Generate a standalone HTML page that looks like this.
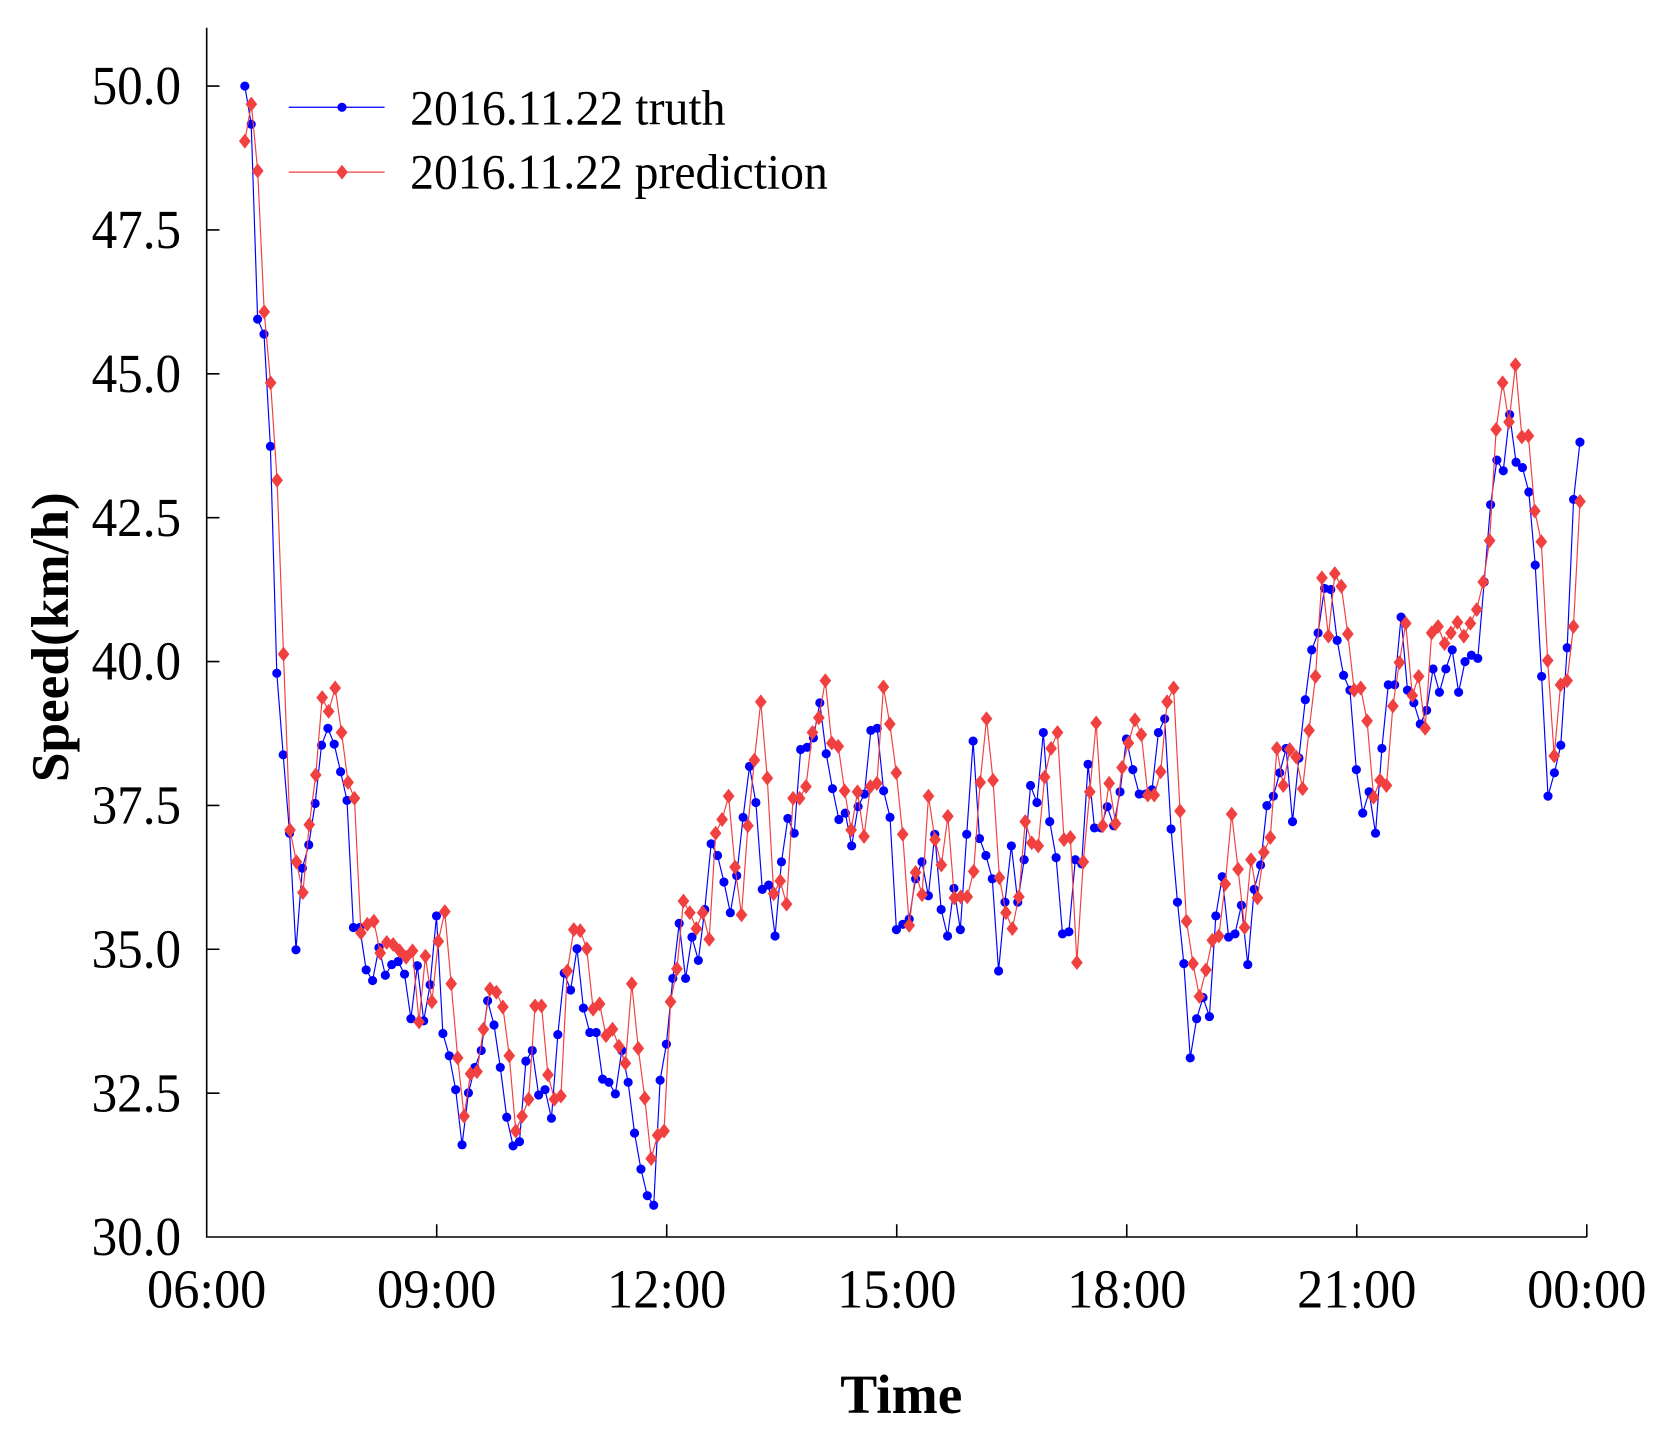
<!DOCTYPE html>
<html><head><meta charset="utf-8"><style>
html,body{margin:0;padding:0;background:#fff;}
svg{display:block;}
text{font-family:"Liberation Serif",serif;fill:#000;}
</style></head><body>
<svg id="s" width="1662" height="1431" viewBox="0 0 1560 1343" xmlns="http://www.w3.org/2000/svg">
<g stroke="#000" stroke-width="1.5" fill="none">
<path d="M194,26 V1161 H1489.4"/>
<path d="M194,80.7 h12 M194,215.7 h12 M194,350.8 h12 M194,485.8 h12 M194,620.9 h12 M194,755.9 h12 M194,890.9 h12 M194,1026 h12"/>
<path d="M409.9,1161 v-12 M625.8,1161 v-12 M841.7,1161 v-12 M1057.6,1161 v-12 M1273.5,1161 v-12 M1489.4,1161 v-12"/>
</g>
<g font-size="52" text-anchor="end">
<text x="170" y="97.7" textLength="84" lengthAdjust="spacingAndGlyphs">50.0</text>
<text x="170" y="232.7" textLength="84" lengthAdjust="spacingAndGlyphs">47.5</text>
<text x="170" y="367.8" textLength="84" lengthAdjust="spacingAndGlyphs">45.0</text>
<text x="170" y="502.8" textLength="84" lengthAdjust="spacingAndGlyphs">42.5</text>
<text x="170" y="637.9" textLength="84" lengthAdjust="spacingAndGlyphs">40.0</text>
<text x="170" y="772.9" textLength="84" lengthAdjust="spacingAndGlyphs">37.5</text>
<text x="170" y="907.9" textLength="84" lengthAdjust="spacingAndGlyphs">35.0</text>
<text x="170" y="1043" textLength="84" lengthAdjust="spacingAndGlyphs">32.5</text>
<text x="170" y="1178" textLength="84" lengthAdjust="spacingAndGlyphs">30.0</text>
</g>
<g font-size="52" text-anchor="middle">
<text x="194" y="1227" textLength="112" lengthAdjust="spacingAndGlyphs">06:00</text>
<text x="409.9" y="1227" textLength="112" lengthAdjust="spacingAndGlyphs">09:00</text>
<text x="625.8" y="1227" textLength="112" lengthAdjust="spacingAndGlyphs">12:00</text>
<text x="841.7" y="1227" textLength="112" lengthAdjust="spacingAndGlyphs">15:00</text>
<text x="1057.6" y="1227" textLength="112" lengthAdjust="spacingAndGlyphs">18:00</text>
<text x="1273.5" y="1227" textLength="112" lengthAdjust="spacingAndGlyphs">21:00</text>
<text x="1489.4" y="1227" textLength="112" lengthAdjust="spacingAndGlyphs">00:00</text>
</g>
<text x="846" y="1326" font-size="52" font-weight="bold" text-anchor="middle">Time</text>
<text transform="translate(64,598) rotate(-90)" font-size="50" font-weight="bold" text-anchor="middle">Speed(km/h)</text>
<g id="plot"></g>
<line x1="271" y1="100.6" x2="361" y2="100.6" stroke="#0000ff" stroke-width="1.2"/>
<circle cx="321" cy="100.6" r="4.3" fill="#0000ff"/>
<line x1="271" y1="161.5" x2="361" y2="161.5" stroke="#f04040" stroke-width="1.2"/>
<path d="M321,154.5 l5.5,7 l-5.5,7 l-5.5,-7 z" fill="#f04040"/>
<text x="385" y="117" font-size="47" textLength="296" lengthAdjust="spacingAndGlyphs">2016.11.22 truth</text>
<text x="385" y="177" font-size="47" textLength="392" lengthAdjust="spacingAndGlyphs">2016.11.22 prediction</text>
</svg>
<script>
var B=[80,116,300,314,420,634,711,785,895,818,796,757,702,686,701,727,754,874,874,914,924,893,919,909,906,918,960,910,962,928,863,974,995,1027,1079,1030,1006,990,943,966,1006,1053,1080,1076,1000,990,1032,1027,1054,975,917,933,894,950,973,973,1017,1020,1031,990,1020,1068,1102,1127,1136,1018,984,922,870,922,883,905,857,795,806,831,860,825,770,722,756,838,834,882,812,771,785,706,704,695,662,710,743,772,766,797,760,748,688,686,745,770,876,871,866,828,812,844,786,857,882,837,876,786,698,790,806,828,915,850,797,850,810,740,756,690,774,808,880,878,810,814,720,780,780,760,778,746,696,725,748,748,744,690,677,781,850,908,997,960,940,958,863,826,883,880,853,909,838,815,759,750,728,705,774,714,659,612,596,554,555,603,636,650,725,766,746,785,705,645,645,581,650,662,682,669,630,652,630,612,652,623,617,620,548,475,433,443,390,435,440,463,532,637,750,728,702,610,470,416];
var R=[132,97,160,293,360,452,616,782,812,841,777,730,657,670,648,690,737,752,879,871,868,898,888,890,896,902,896,963,901,944,887,859,927,997,1052,1012,1010,970,932,935,949,995,1066,1052,1036,948,948,1013,1036,1033,915,876,877,894,951,946,976,970,986,1002,927,988,1035,1092,1070,1066,944,913,849,860,875,860,885,785,772,750,817,862,778,716,661,733,842,830,852,752,752,741,690,676,641,700,703,745,782,746,788,741,738,647,682,728,786,872,822,843,750,791,815,769,846,845,845,821,737,677,735,827,860,875,845,774,794,797,732,705,690,791,789,907,812,746,681,778,738,776,723,700,678,692,749,749,727,661,648,764,868,908,939,914,886,882,833,767,819,874,810,846,803,789,705,740,706,713,743,688,637,544,599,540,552,597,650,648,679,751,735,740,665,624,587,655,637,686,596,590,606,596,586,599,587,574,548,509,404,360,397,343,411,410,481,510,622,712,645,641,590,472];
function draw(arr,col,diamond){
 var n=arr.length,pts=[],m='';
 for(var i=0;i<n;i++){var x=229.8+(1483-229.8)*i/(n-1),y=80.7+(arr[i]-80)*1080.3/1086;y=+y.toFixed(1);pts.push(x.toFixed(1)+','+y);
  if(diamond)m+='<path d="M'+x.toFixed(1)+','+(y-7)+' l5.5,7 l-5.5,7 l-5.5,-7 z" fill="'+col+'"/>';
  else m+='<circle cx="'+x.toFixed(1)+'" cy="'+y+'" r="4.3" fill="'+col+'"/>';}
 return '<polyline points="'+pts.join(' ')+'" fill="none" stroke="'+col+'" stroke-width="1.1"/>'+m;
}
document.getElementById('plot').innerHTML=draw(B,'#0000ff',false)+draw(R,'#f04040',true);
</script>
</body></html>
